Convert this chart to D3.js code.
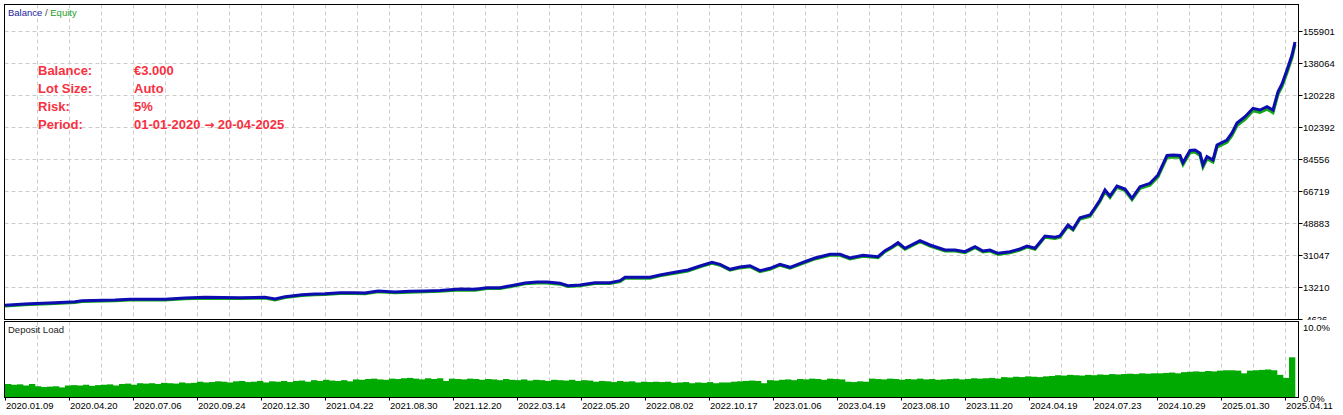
<!DOCTYPE html>
<html><head><meta charset="utf-8">
<script src="https://cdn.jsdelivr.net/npm/d3@7"></script>
<style>html,body{margin:0;padding:0;background:#fff;}svg{display:block;}</style>
</head><body>
<svg id="c" width="1343" height="415"></svg>
<script>
// ---- data ----
const deals = [0,20,25,50,70,77,110,125,160,180,200,235,260,270,280,297,310,320,335,350,360,373,390,405,420,435,455,470,482,495,510,520,532,542,555,563,575,590,605,615,620,630,645,655,670,683,695,707,715,725,735,745,755,765,775,785,798,810,825,835,845,858,873,880,887,893,900,915,925,940,950,960,970,978,985,993,1005,1015,1022,1030,1040,1050,1055,1063,1068,1075,1085,1088,1095,1100,1105,1112,1120,1127,1135,1145,1153,1162,1168,1175,1178,1185,1190,1195,1198,1202,1208,1212,1222,1227,1232,1240,1248,1255,1262,1268,1273,1277,1282,1287,1290];
const balance = [3000,3700,3900,4460,5020,5570,5960,6350,6400,7080,7470,7250,7470,6520,7800,8920,9310,9480,10030,10030,9870,10980,10420,10810,10980,11260,12100,11930,12820,12820,14330,15440,16000,16000,15270,13940,14330,15610,15610,16720,18620,18620,18620,19900,21400,22690,24920,26980,25860,23080,24360,25080,22300,23630,25860,24190,26980,29370,31440,31440,29370,30880,30100,33440,35670,37900,34780,39020,36620,33830,33830,32890,35670,33280,33830,31990,32890,34390,36060,34780,41640,40910,41640,47770,45540,51840,53340,55740,61700,67280,63930,69510,67830,62650,69120,71010,75640,86510,86780,86510,82490,89290,89570,87730,81210,85840,84000,92360,95150,99050,104620,108130,112810,111870,113710,111870,122070,126360,134160,142520,149770];
const equity = [2600,3300,3500,4000,4550,5100,5500,5900,5950,6600,7000,6800,7000,6000,7300,8450,8850,9000,9550,9550,9400,10500,9950,10350,10500,10800,11600,11450,12350,12350,13850,14950,15500,15500,14800,13450,13850,15100,15100,16200,18100,18100,18100,19400,20900,22150,24400,26450,25350,22550,23850,24550,21800,23100,25350,23650,26450,28850,30900,30900,28850,30350,29550,32900,35100,37300,34200,38450,36050,33250,33250,32300,35100,32700,33250,31400,32300,33800,35500,34200,41000,40300,41000,47100,44900,51100,52600,55000,60900,66400,63100,68700,66900,61800,68200,70000,74600,85400,85700,85400,81400,88100,88400,86500,80000,84600,82800,91100,93900,97700,103200,106700,111400,110500,112300,110400,120600,124900,132600,141000,148300];
// deposit load (%), one value per 6 deals
const depositLoad = [
1.8,1.7,1.75,1.6,1.8,1.5,1.4,1.45,1.5,1.35,1.6,1.65,
1.6,1.7,1.55,1.65,1.7,1.75,1.6,1.8,1.85,1.7,1.9,1.85,
1.9,1.8,1.95,1.9,1.85,2.0,1.9,1.95,2.1,2.0,2.05,2.15,
2.1,2.0,2.15,2.2,2.05,2.1,2.2,2.0,2.15,2.1,2.2,2.05,
2.2,2.25,2.1,2.3,2.2,2.35,2.25,2.2,2.3,2.15,2.4,2.35,
2.45,2.5,2.4,2.35,2.5,2.45,2.55,2.6,2.5,2.4,2.55,2.45,
2.55,2.2,2.5,2.45,2.4,2.5,2.45,2.35,2.45,2.4,2.3,2.45,
2.35,2.3,2.4,2.25,2.35,2.3,2.2,2.35,2.3,2.25,2.35,2.2,
2.3,2.25,2.1,2.2,2.15,2.05,2.2,2.1,2.15,2.0,2.1,2.05,
2.1,2.05,2.1,1.95,2.0,2.05,1.9,2.0,1.95,2.05,1.9,2.0,
2.0,2.1,2.15,2.2,2.25,2.2,1.9,2.3,2.25,2.35,2.4,2.3,
2.45,2.4,2.5,2.45,2.35,2.5,2.45,2.4,2.1,2.05,2.15,2.1,
2.5,2.45,2.4,2.5,2.45,2.35,2.45,2.4,2.5,2.4,2.45,2.35,
2.4,2.45,2.5,2.4,2.45,2.55,2.5,2.55,2.6,2.5,2.7,2.65,
2.75,2.7,2.8,2.75,2.7,2.8,2.85,2.95,2.9,3.0,2.95,2.9,
3.0,2.95,3.05,3.0,3.1,3.05,3.1,3.15,3.1,3.2,3.15,3.2,
3.2,3.25,3.3,3.2,3.35,3.4,3.45,3.4,3.5,3.45,3.55,3.6,
3.6,3.55,3.2,3.55,3.6,3.65,3.7,3.6,3.0,2.6,5.3];
const loadStep = 6;
const yTicks = [-4626,13210,31047,48883,66719,84556,102392,120228,138064,155901];
const dateLabels = ["2020.01.09","2020.04.20","2020.07.06","2020.09.24","2020.12.30","2021.04.22","2021.08.30","2021.12.20","2022.03.14","2022.05.20","2022.08.02","2022.10.17","2023.01.06","2023.04.19","2023.08.10","2023.11.20","2024.04.19","2024.07.23","2024.10.29","2025.01.30","2025.04.11"];
const dateStep = 64, gridStep = 32, totalDeals = 1290;
const loadLabels = ["10.0%","0.0%"];
const infoLabels = ["Balance:","Lot Size:","Risk:","Period:"];
const infoValues = ["€3.000","Auto","5%","01-01-2020 \u2192 20-04-2025"];

// ---- layout ----
const svg = d3.select("#c");
const FONT = "'Liberation Sans', Arial, sans-serif";
const L = 4.5, R = 1298.5, T = 4.5, B = 319.5, LT = 321.5, LB = 397.5;
const x = d3.scaleLinear().domain([0, totalDeals]).range([5, 1295]);
const y = d3.scaleLinear().domain([-4626, 155901]).range([319, 31]);
const yl = d3.scaleLinear().domain([0, 10]).range([397.7, 321.5]);
const gridColor = "#cccccc";

// grid
const gx = d3.range(gridStep, totalDeals, gridStep);
svg.append("g").selectAll("line").data(gx).join("line")
  .attr("x1", d => Math.round(x(d)) + 0.5).attr("x2", d => Math.round(x(d)) + 0.5)
  .attr("y1", T).attr("y2", B).attr("stroke", gridColor).attr("stroke-dasharray", "4,3");
svg.append("g").selectAll("line").data(gx).join("line")
  .attr("x1", d => Math.round(x(d)) + 0.5).attr("x2", d => Math.round(x(d)) + 0.5)
  .attr("y1", LT).attr("y2", LB).attr("stroke", gridColor).attr("stroke-dasharray", "4,3");
svg.append("g").selectAll("line").data(yTicks.slice(1)).join("line")
  .attr("x1", L).attr("x2", R)
  .attr("y1", d => Math.round(y(d)) + 0.5).attr("y2", d => Math.round(y(d)) + 0.5)
  .attr("stroke", gridColor).attr("stroke-dasharray", "4,3");

// deposit load bars
svg.append("g").selectAll("rect").data(depositLoad).join("rect")
  .attr("x", (d, i) => x(i * loadStep))
  .attr("width", (d, i) => x((i + 1) * loadStep) - x(i * loadStep) + 0.3)
  .attr("y", d => yl(d)).attr("height", d => yl(0) - yl(d))
  .attr("fill", "#00aa00");

// lines
const pts = (arr) => arr.map((v, i) => [deals[i], v]);
const line = d3.line().x(d => x(d[0])).y(d => y(d[1]));
svg.append("path").attr("d", line(pts(equity))).attr("fill", "none")
  .attr("stroke", "#14a814").attr("stroke-width", 3).attr("stroke-linejoin", "miter");
svg.append("path").attr("d", line(pts(balance))).attr("fill", "none")
  .attr("stroke", "#0c0cb0").attr("stroke-width", 3).attr("stroke-linejoin", "miter");

// borders
svg.append("rect").attr("x", L).attr("y", T).attr("width", R - L).attr("height", B - T)
  .attr("fill", "none").attr("stroke", "#000");
svg.append("rect").attr("x", L).attr("y", LT).attr("width", R - L).attr("height", LB - LT)
  .attr("fill", "none").attr("stroke", "#000");

// y axis ticks & labels
svg.append("defs").append("clipPath").attr("id", "mainClip")
  .append("rect").attr("x", 0).attr("y", 0).attr("width", 1343).attr("height", 320);
svg.append("g").selectAll("line").data(yTicks).join("line")
  .attr("x1", R).attr("x2", R + 4)
  .attr("y1", d => Math.round(y(d)) + 0.5).attr("y2", d => Math.round(y(d)) + 0.5)
  .attr("stroke", "#000");
svg.append("g").attr("clip-path", "url(#mainClip)").selectAll("text").data(yTicks).join("text")
  .attr("x", 1303).attr("y", d => y(d) + 0.5).attr("dy", "0.35em")
  .attr("font-family", FONT).attr("font-size", 9.5).attr("fill", "#000")
  .text(d => d);
svg.append("g").selectAll("text").data(loadLabels).join("text")
  .attr("x", 1303).attr("y", (d, i) => i === 0 ? yl(10) + 6 : yl(0) + 0.5).attr("dy", "0.35em")
  .attr("font-family", FONT).attr("font-size", 9.5).attr("fill", "#000")
  .text(d => d);

// x axis ticks & labels
svg.append("g").selectAll("line").data(dateLabels).join("line")
  .attr("x1", (d, i) => Math.round(x(i * dateStep)) + 0.5).attr("x2", (d, i) => Math.round(x(i * dateStep)) + 0.5)
  .attr("y1", LB).attr("y2", LB + 3).attr("stroke", "#000");
svg.append("g").selectAll("text").data(dateLabels).join("text")
  .attr("x", (d, i) => x(i * dateStep) + 1).attr("y", 406).attr("dy", "0.35em")
  .attr("font-family", FONT).attr("font-size", 9.5).attr("fill", "#000")
  .text(d => d);

// legends
const leg = svg.append("text").attr("x", 8).attr("y", 13).attr("dy", "0.35em")
  .attr("font-family", FONT).attr("font-size", 9.5);
leg.append("tspan").attr("fill", "#1c1c9c").text("Balance");
leg.append("tspan").attr("fill", "#444").text(" / ");
leg.append("tspan").attr("fill", "#22a022").text("Equity");
svg.append("text").attr("x", 8).attr("y", 330).attr("dy", "0.35em")
  .attr("font-family", FONT).attr("font-size", 9.5).attr("fill", "#222").text("Deposit Load");

// info block
const info = svg.append("g").attr("font-family", FONT).attr("font-weight", "bold")
  .attr("font-size", 13).attr("fill", "#f8303f");
info.selectAll("text.k").data(infoLabels).join("text").attr("class", "k")
  .attr("x", 38).attr("y", (d, i) => 70 + i * 18).attr("dy", "0.35em").text(d => d);
info.selectAll("text.v").data(infoValues).join("text").attr("class", "v")
  .attr("x", 134).attr("y", (d, i) => 70 + i * 18).attr("dy", "0.35em")
  .each(function(d) {
    const parts = d.split("\u2192");
    const t = d3.select(this);
    parts.forEach((p, j) => {
      if (j > 0) t.append("tspan").attr("font-family", "'DejaVu Sans', sans-serif").attr("font-size", 12).text("\u2192");
      t.append("tspan").text(p);
    });
  });
</script>
</body></html>
